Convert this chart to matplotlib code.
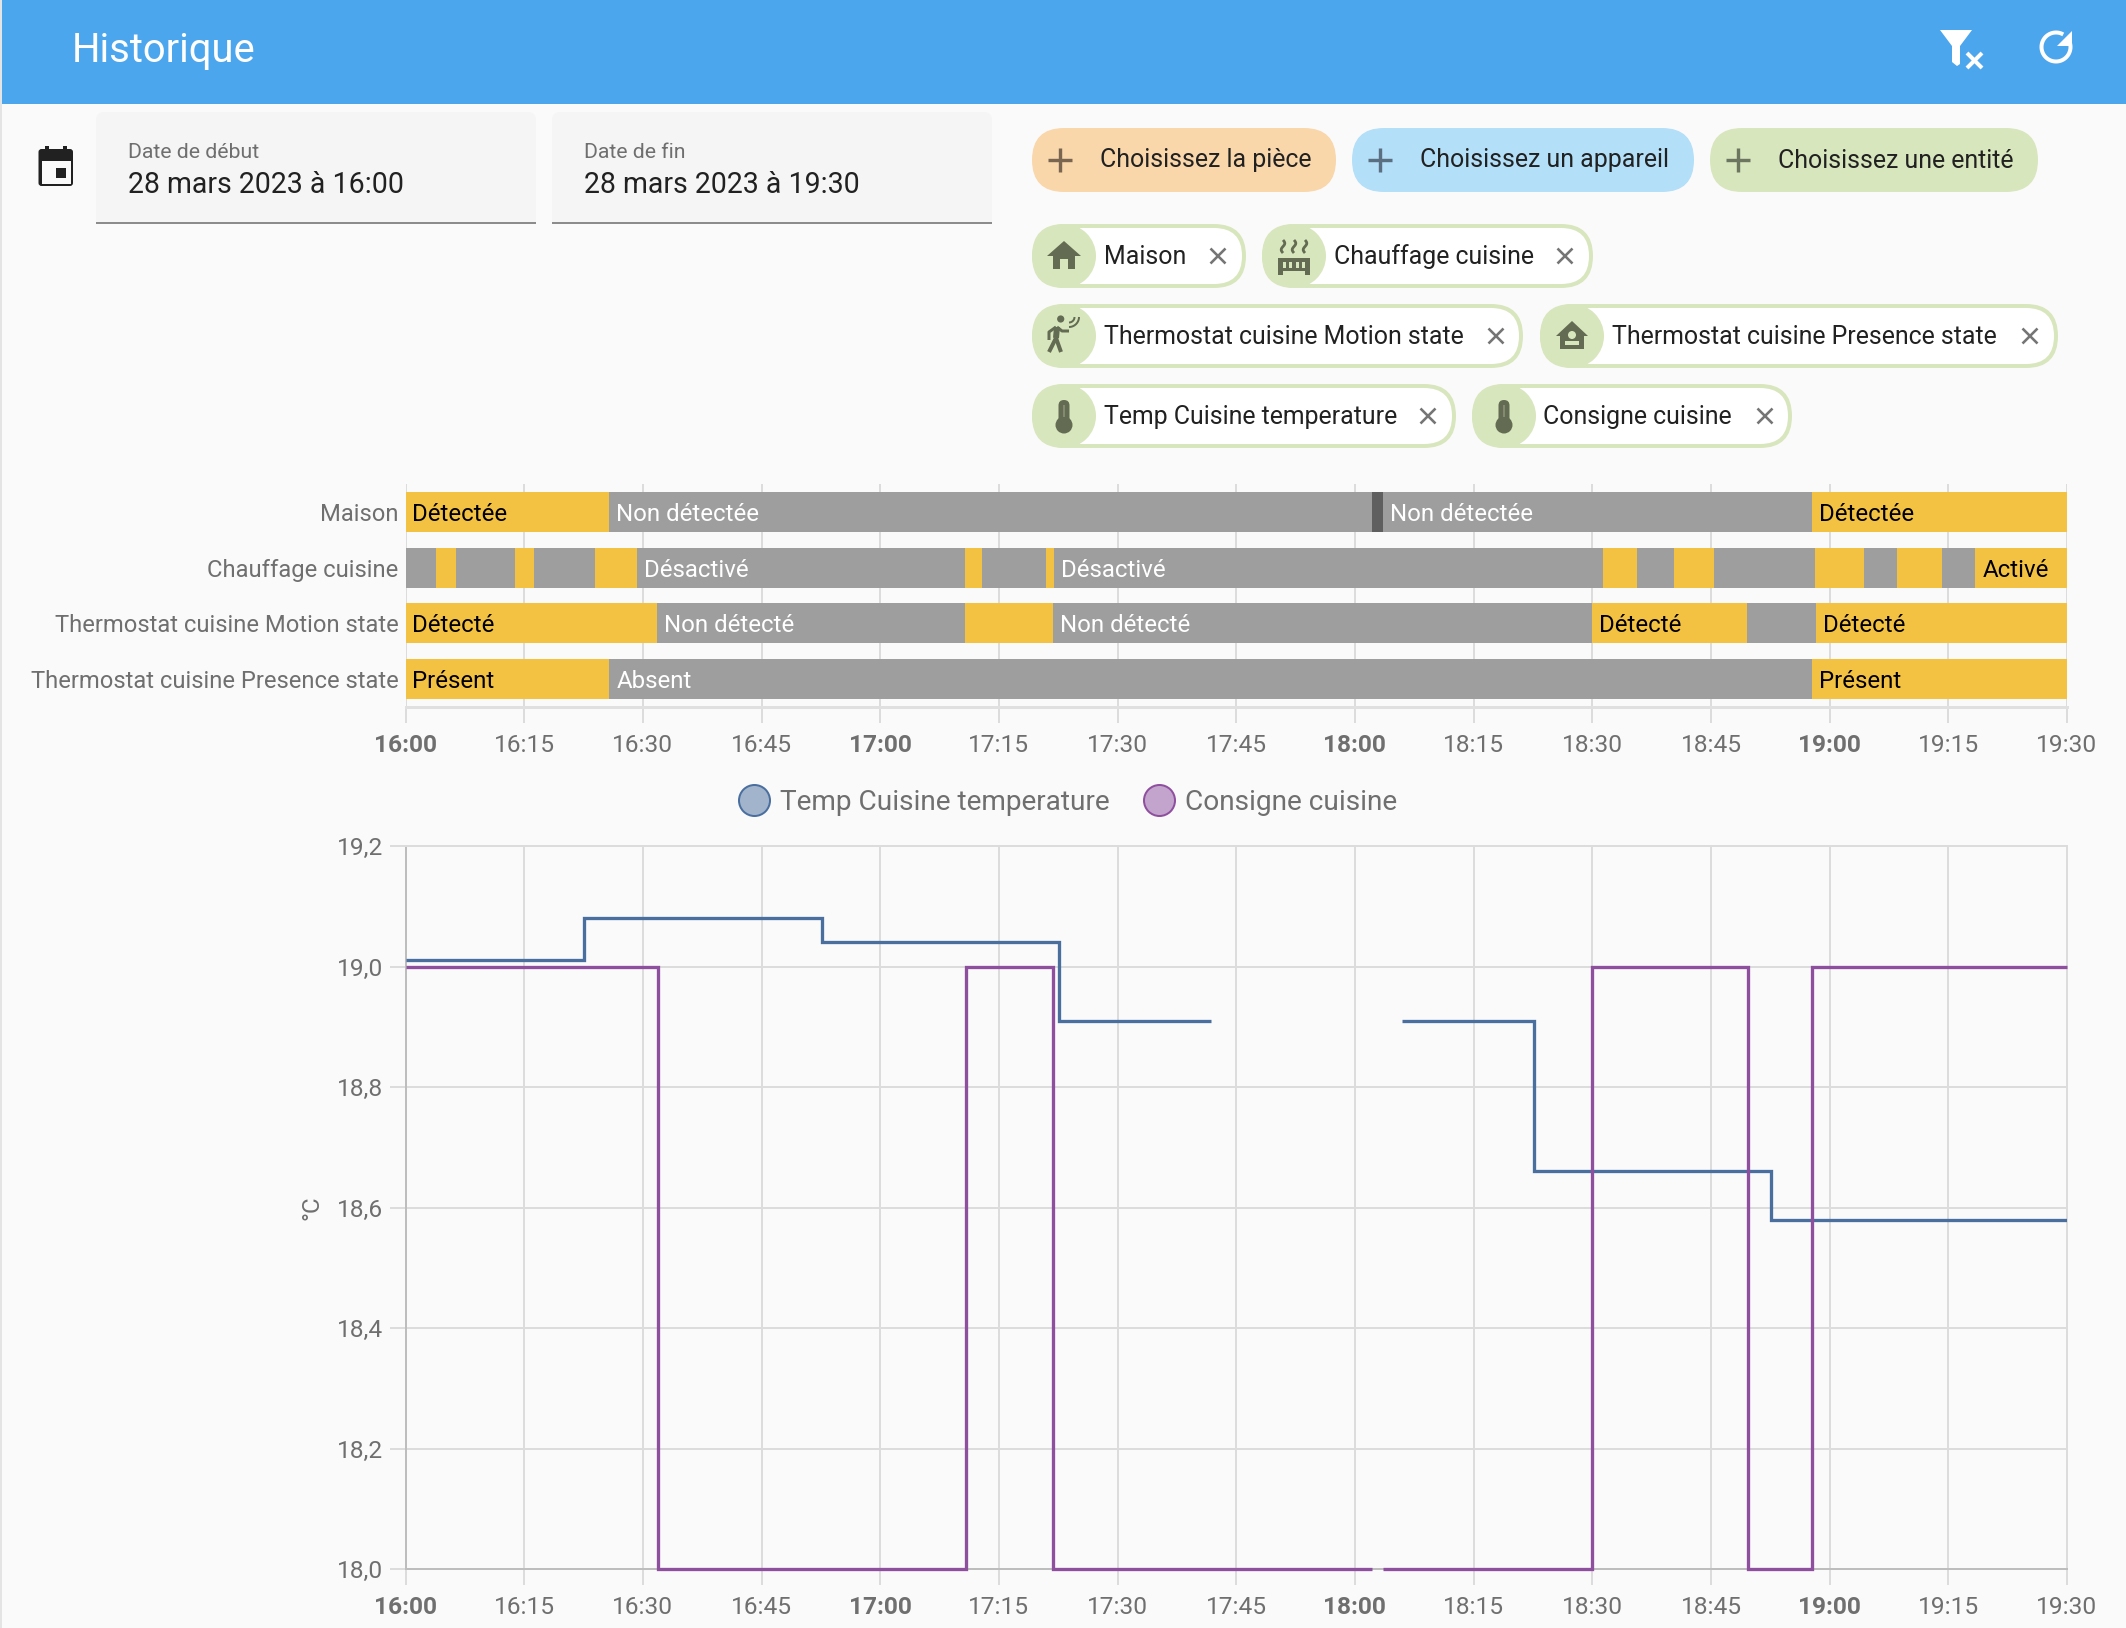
import numpy as np
import matplotlib
matplotlib.use("Agg")
import matplotlib.pyplot as plt
from matplotlib.patches import FancyBboxPatch, Rectangle, Circle, Polygon
from matplotlib.lines import Line2D

plt.rcParams['font.family'] = ['Roboto', 'DejaVu Sans']

# ---- data (minutes after 16:00) ----
page_title = "Historique"
date_labels = ["Date de début", "Date de fin"]
date_values = ["28 mars 2023 à 16:00", "28 mars 2023 à 19:30"]
pickers = ["Choisissez la pièce", "Choisissez un appareil", "Choisissez une entité"]
chips = ["Maison", "Chauffage cuisine", "Thermostat cuisine Motion state",
         "Thermostat cuisine Presence state", "Temp Cuisine temperature", "Consigne cuisine"]

rows = ["Maison", "Chauffage cuisine", "Thermostat cuisine Motion state", "Thermostat cuisine Presence state"]
maison_edges = [0, 25.75, 122.1, 123.6, 177.75, 210]
maison_states = ["on", "off", "na", "off", "on"]
maison_labels = ["Détectée", "Non détectée", "", "Non détectée", "Détectée"]
chauffage_edges = [0, 3.9, 6.4, 13.9, 16.3, 24, 25.75, 29.3, 70.7, 72.9, 80.9, 82, 151.3,
                   155.6, 160.3, 165.4, 178.1, 184.4, 188.5, 194.2, 198.4, 210]
chauffage_states = ["off", "on", "off", "on", "off", "on", "on", "off", "on", "off", "on", "off",
                    "on", "off", "on", "off", "on", "off", "on", "off", "on"]
chauffage_labels = ["", "", "", "", "", "", "", "Désactivé", "", "", "", "Désactivé",
                    "", "", "", "", "", "", "", "", "Activé"]
motion_edges = [0, 31.8, 70.7, 81.8, 150, 169.6, 178.3, 210]
motion_states = ["on", "off", "on", "off", "on", "off", "on"]
motion_labels = ["Détecté", "Non détecté", "", "Non détecté", "Détecté", "", "Détecté"]
presence_edges = [0, 25.75, 177.75, 210]
presence_states = ["on", "off", "on"]
presence_labels = ["Présent", "Absent", "Présent"]

temp_name = "Temp Cuisine temperature"
temp_t = [0, 22.6, 52.6, 82.6, 101.7, 101.8, 126, 142.6, 172.6, 210]
temp_v = [19.01, 19.08, 19.04, 18.91, 18.91, np.nan, 18.91, 18.66, 18.58, 18.58]
setpoint_name = "Consigne cuisine"
setpoint_t = [0, 31.9, 70.9, 81.9, 122, 122.1, 123.6, 150, 169.7, 177.8, 210]
setpoint_v = [19, 18, 19, 18, 18, np.nan, 18, 19, 18, 19, 19]

tick_minutes = list(range(0, 211, 15))
tick_labels = ["16:00", "16:15", "16:30", "16:45", "17:00", "17:15", "17:30", "17:45",
               "18:00", "18:15", "18:30", "18:45", "19:00", "19:15", "19:30"]
y_ticks = [18.0, 18.2, 18.4, 18.6, 18.8, 19.0, 19.2]
y_tick_labels = ["18,0", "18,2", "18,4", "18,6", "18,8", "19,0", "19,2"]

# ---- styles ----
W, H = 2126, 1628
BG = "#fafafa"; HEAD = "#4ba6ee"; GREEN = "#d8e6bd"; ICON = "#636b52"
YEL = "#f4c242"; GREY = "#9e9e9e"; DARK = "#5f5f5f"; TXT = "#212121"; MUTED = "#6f6f6f"
GRID = "#dcdcdc"; BLUE = "#4a6f9f"; PURPLE = "#8e4f9f"
STATE_COL = {"on": YEL, "off": GREY, "na": DARK}
px = 0.72  # points per pixel at dpi 100

fig = plt.figure(figsize=(W/100, H/100), dpi=100, facecolor=BG)

# ---- page furniture, in pixel coordinates ----
ui = fig.add_axes([0, 0, 1, 1], zorder=0)
ui.set_xlim(0, W); ui.set_ylim(H, 0); ui.axis("off")

def rect(x0, y0, x1, y1, c, **k):
    ui.add_patch(Rectangle((x0, y0), x1-x0, y1-y0, fc=c, ec="none", **k))

def pill(x0, y0, x1, y1, c, r=None):
    r = (y1-y0)/2 if r is None else r
    ui.add_patch(FancyBboxPatch((x0, y0), x1-x0, y1-y0, boxstyle=f"round,pad=0,rounding_size={r}",
                                fc=c, ec="none", mutation_aspect=1))

def seg(xs, ys, c, w=3, cap="butt"):
    ui.plot(xs, ys, color=c, lw=w*px, solid_capstyle=cap, solid_joinstyle="round")

def poly(pts, c, ox=0, oy=0):
    ui.add_patch(Polygon([(ox+a, oy+b) for a, b in pts], closed=True, fc=c, ec="none"))

def txt(x, y, s, size, c=TXT, **k):
    k.setdefault("va", "center_baseline")
    ui.text(x, y, s, fontsize=size*px, color=c, **k)

rect(0, 0, 2.2, H, "#e4e4e4")
rect(2, 0, W, 104, HEAD)
txt(72, 47, page_title, 40, "white")

# filter + refresh icons
poly([(1940, 30), (1972, 30), (1960, 46), (1960, 64), (1957, 66), (1952, 62), (1952, 46)], "white")
seg([1967, 1982], [53, 68], "white", 4); seg([1982, 1967], [53, 68], "white", 4)
th = np.radians(np.linspace(-35, 300, 60))
seg(2056+14.5*np.cos(th), 47+14.5*np.sin(th), "white", 4)
poly([(2072, 31), (2072, 46), (2057, 46)], "white")

# calendar
pill(38.5, 149, 73, 186, "#212121", r=3)
rect(45, 146, 49, 152, "#212121"); rect(63, 146, 67, 152, "#212121")
rect(42, 161, 70.5, 183.5, BG); rect(55.6, 168, 66.4, 178, "#212121")

# date fields
for x0, x1, lab, val in zip((96, 552), (536, 992), date_labels, date_values):
    pill(x0, 112, x1, 180, "#f5f5f5", r=8)
    rect(x0, 130, x1, 222, "#f5f5f5")
    rect(x0, 222, x1, 224, "#8c8c8c")
    txt(x0+32, 150, lab, 21.3, MUTED)
    txt(x0+32, 182, val, 28.5, TXT)

# picker chips
for (x0, x1, fc, pc), tx, lab in zip(((1032, 1336, "#f9d7ab", "#7a6650"), (1352, 1694, "#b3dff8", "#5a6f80"),
                                      (1710, 2038, "#d8e6bd", "#6b7560")), (1100, 1420, 1778), pickers):
    pill(x0, 128, x1, 192, fc)
    seg([x0+16, x0+40], [160, 160], pc, 3.4); seg([x0+28, x0+28], [148, 172], pc, 3.4)
    txt(tx, 158, lab, 24.85, TXT)

def ic_house(cx, cy):
    poly([(0, -15), (17, 0), (11, 0), (11, 13), (4, 13), (4, 3), (-4, 3), (-4, 13), (-11, 13), (-11, 0), (-17, 0)], ICON, cx, cy)

def ic_radiator(cx, cy):
    pill(cx-16, cy+2, cx+16, cy+15, ICON, r=2)
    rect(cx-16, cy+2, cx-11, cy+19, ICON); rect(cx+11, cy+2, cx+16, cy+19, ICON)
    for d in (-9.5, -3.2, 3.2, 9.5):
        rect(cx+d-1.4, cy+6, cx+d+1.4, cy+12, GREEN)
    for d in (-11, 0, 11):
        t = np.linspace(0, 1, 16)
        seg(cx+d+1.8*np.sin(t*2*np.pi), cy-16+13*t, ICON, 2.8)

def ic_walker(cx, cy):
    ui.add_patch(Circle((cx-3.3, cy-17), 3.6, fc=ICON, ec="none"))
    seg([cx-7, cx-8], [cy-9, cy+2], ICON, 6)
    seg([cx-8, cx-15], [cy+2, cy+16], ICON, 4)
    seg([cx-8, cx-3], [cy+2, cy+16], ICON, 4)
    seg([cx-7, cx-2, cx+5], [cy-9, cy-5, cy-5], ICON, 3)
    seg([cx-8, cx-15, cx-15], [cy-9, cy-4, cy+4], ICON, 3)
    for r in (5.5, 10):
        a = np.radians(np.linspace(0, 90, 14))
        seg(cx+5+r*np.cos(a), cy-19+r*np.sin(a), ICON, 2)

def ic_presence(cx, cy):
    poly([(0, -15), (16, 0), (12, 0), (12, 13), (-12, 13), (-12, 0), (-16, 0)], ICON, cx, cy)
    ui.add_patch(Circle((cx, cy-1), 4, fc=GREEN, ec="none"))
    rect(cx-7, cy+5, cx+7, cy+9, GREEN)

def ic_thermo(cx, cy):
    pill(cx-5.5, cy-16, cx+5.5, cy+10, ICON, r=5.5)
    ui.add_patch(Circle((cx, cy+9), 8.5, fc=ICON, ec="none"))
    seg([cx, cx], [cy-11, cy+1], "#8b9278", 1.6)

chip_rows = [(224, 288), (224, 288), (304, 368), (304, 368), (384, 448), (384, 448)]
chip_x = [(1032, 1246), (1262, 1593), (1032, 1523), (1540, 2058), (1032, 1456), (1472, 1792)]
chip_tx = [1104, 1334, 1104, 1612, 1104, 1543]
chip_cx = [1218, 1565, 1496, 2030, 1428, 1765]
chip_ic = [ic_house, ic_radiator, ic_walker, ic_presence, ic_thermo, ic_thermo]
for (y0, y1), (x0, x1), tx, xx, ic, lab in zip(chip_rows, chip_x, chip_tx, chip_cx, chip_ic, chips):
    pill(x0, y0, x1, y1, GREEN)
    pill(x0+20, y0+4, x1-4, y1-4, "white", r=28)
    ui.add_patch(Circle((x0+32, (y0+y1)/2), 32, fc=GREEN, ec="none"))
    cy = (y0+y1)/2
    ic(x0+32, cy)
    txt(tx, cy-1.5, lab, 24.85, TXT)
    seg([xx-7.5, xx+7.5], [cy-7.5, cy+7.5], "#757575", 2.6)
    seg([xx-7.5, xx+7.5], [cy+7.5, cy-7.5], "#757575", 2.6)

def axes_px(x0, y0, x1, y1):
    return fig.add_axes([x0/W, 1-y1/H, (x1-x0)/W, (y1-y0)/H], facecolor="none", zorder=1)

def style_time_axis(ax):
    ax.set_xlim(0, 210)
    ax.set_xticks(tick_minutes)
    ax.set_xticklabels(tick_labels)
    for lab in ax.get_xticklabels():
        lab.set_fontweight("bold" if lab.get_text().endswith(":00") else "normal")
    ax.grid(axis="x", color=GRID, lw=2*px)
    ax.tick_params(axis="x", length=16*px, width=2*px, color=GRID, labelcolor=MUTED, labelsize=24.5*px, pad=11*px)
    ax.set_axisbelow(True)

# ---- timeline ----
tl = axes_px(405.5, 484, 2067, 707)
all_rows = [(maison_edges, maison_states, maison_labels), (chauffage_edges, chauffage_states, chauffage_labels),
            (motion_edges, motion_states, motion_labels), (presence_edges, presence_states, presence_labels)]
for i, (edges, states, labels) in enumerate(all_rows):
    e = np.array(edges, float)
    tl.barh(i, e[1:]-e[:-1], left=e[:-1], height=0.72, color=[STATE_COL[s] for s in states], lw=0)
    for start, st, lab in zip(e[:-1], states, labels):
        if lab:
            tl.annotate(lab, (start, i), xytext=(7*px, 0), textcoords="offset points", va="center_baseline",
                        fontsize=24*px, color="black" if st == "on" else "white")
tl.set_ylim(3.5, -0.5)
tl.set_yticks(range(4)); tl.set_yticklabels(rows)
tl.tick_params(axis="y", length=0, labelcolor=MUTED, labelsize=23.8*px, pad=7*px)
style_time_axis(tl)
for s in ("top", "left", "right"):
    tl.spines[s].set_visible(False)
tl.spines["bottom"].set_color("#e0e0e0"); tl.spines["bottom"].set_linewidth(3*px)

# ---- line chart ----
ax = axes_px(405.5, 846, 2067, 1569)
ax.plot(temp_t, temp_v, drawstyle="steps-post", color=BLUE, lw=3.3*px, label=temp_name,
        solid_joinstyle="miter", solid_capstyle="butt", zorder=3)
ax.plot(setpoint_t, setpoint_v, drawstyle="steps-post", color=PURPLE, lw=3.3*px, label=setpoint_name,
        solid_joinstyle="miter", solid_capstyle="butt", clip_on=False, zorder=3)
ax.set_ylim(18, 19.2)
ax.set_yticks(y_ticks); ax.set_yticklabels(y_tick_labels)
ax.grid(axis="y", color=GRID, lw=2*px)
ax.tick_params(axis="y", length=16*px, width=2*px, color=GRID, labelcolor=MUTED, labelsize=24.5*px, pad=6*px)
style_time_axis(ax)
for s in ("top", "right"):
    ax.spines[s].set_color(GRID); ax.spines[s].set_linewidth(2*px)
for s in ("left", "bottom"):
    ax.spines[s].set_color("#bdbdbd"); ax.spines[s].set_linewidth(2*px)
ax.set_ylabel("°C", color=MUTED, fontsize=24*px, labelpad=14*px)

handles = [Line2D([], [], ls="", marker="o", ms=31*px, mfc=c+"80", mec=c, mew=2*px, label=n)
           for c, n in ((BLUE, temp_name), (PURPLE, setpoint_name))]
fig.legend(handles=handles, ncol=2, frameon=False, loc="center", bbox_to_anchor=(1067/W, 1-802/H),
           fontsize=28*px, labelcolor=MUTED, handletextpad=0.33, columnspacing=1.18, borderpad=0, handlelength=1.2)

fig.savefig("out.png", dpi=100, facecolor=BG)
